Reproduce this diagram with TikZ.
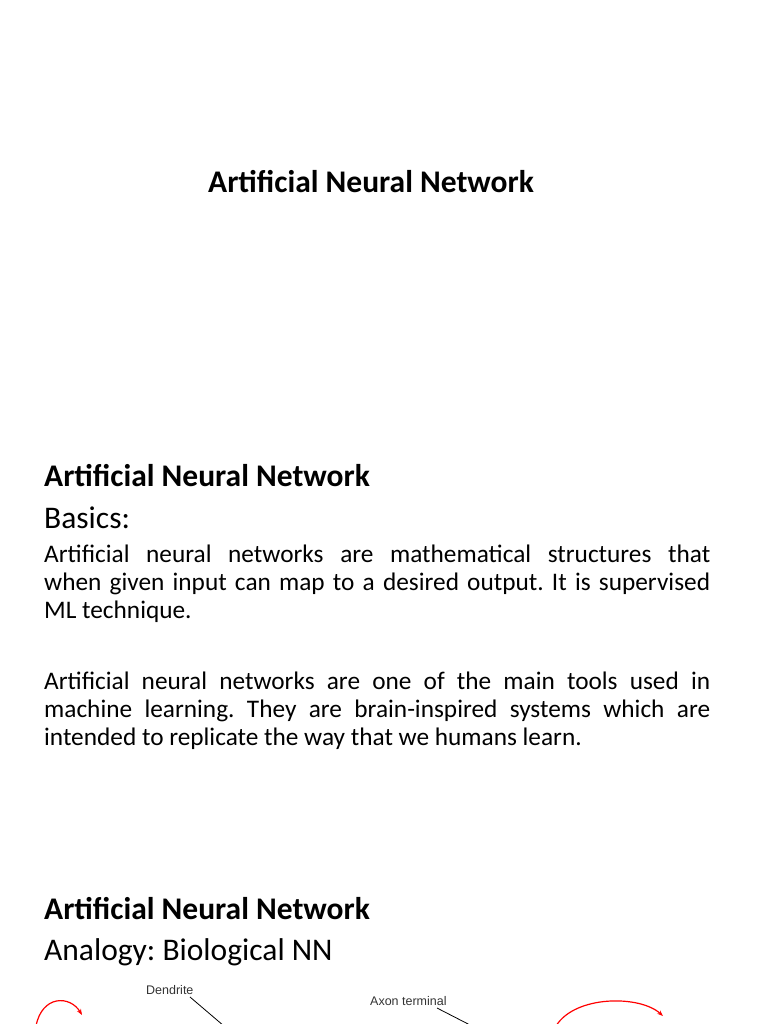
\documentclass[tikz,border=0pt]{standalone}
\usepackage{fontspec}
\setmainfont{Carlito}
\newfontfamily\arialf{Liberation Sans}
\usetikzlibrary{arrows.meta}
\newcommand\nohyph{\hyphenpenalty10000 \exhyphenpenalty10000 \relax}
\begin{document}
\frenchspacing
\begin{tikzpicture}[x=1pt,y=-1pt,
  body/.style={anchor=north west,inner sep=0pt,text width=666pt,align=justify,font=\fontsize{25.3}{28}\selectfont\nohyph},
  head/.style={anchor=west,inner sep=0pt,font=\fontsize{31.5}{34}\selectfont\bfseries},
  sub/.style={anchor=west,inner sep=0pt,font=\fontsize{31.5}{36}\selectfont},
  lab/.style={anchor=west,inner sep=0pt,font=\arialf\fontsize{12.5}{14}\selectfont,text=black!80},
  redarc/.style={red,line width=1.2pt,-{Stealth[length=6pt]}}]
\useasboundingbox (0,0) rectangle (768,1024);
\clip (0,0) rectangle (768,1024);
\node[head] (t1) at (208,182) {Artificial Neural Network};
\node[head] (t2) at (44,476) {Artificial Neural Network};
\node[sub] (b) at (44,518) {Basics:};
\node[body] (p1) at (44,545) {Artificial neural networks are mathematical structures that\linebreak when given input can map to a desired output. It is supervised\linebreak ML technique.};
\node[body] (p2) at (44,672) {Artificial neural networks are one of the main tools used in\linebreak machine learning. They are brain-inspired systems which are\linebreak intended to replicate the way that we humans learn.};
\node[head] (t3) at (44,909) {Artificial Neural Network};
\node[sub] (a) at (44,952) {Analogy: Biological NN};
\node[lab] (d) at (146,990) {Dendrite};
\node[lab] (ax) at (370,1001) {Axon terminal};
\coordinate (de) at (224,1026);
\coordinate (axe) at (472,1026);
\draw[black,line width=0.8pt] (190,997) -- (de);
\draw[black,line width=0.8pt] (437,1008) -- (axe);
\coordinate (l0) at (36,1026);
\coordinate (l1) at (82,1015);
\draw[redarc] (l0) .. controls (42,995) and (70,995) .. (l1);
\coordinate (r0) at (556,1026);
\coordinate (r1) at (663,1016);
\draw[redarc] (r0) .. controls (575,995) and (640,995) .. (r1);
\end{tikzpicture}
\end{document}
